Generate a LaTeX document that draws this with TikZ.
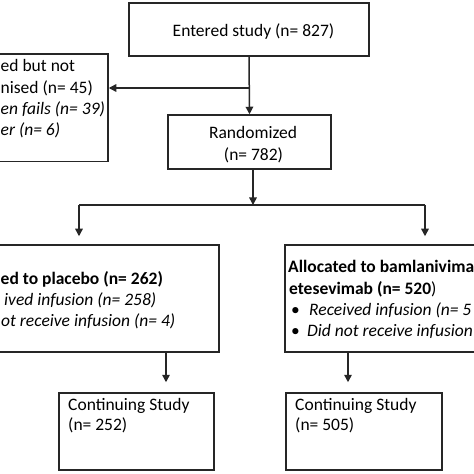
\documentclass[tikz,border=0pt]{standalone}
\usepackage{fontspec}
\setmainfont{Carlito}
\usetikzlibrary{arrows.meta}
\begin{document}
\begin{tikzpicture}[x=1bp,y=-1bp,
  box/.style={draw=black!85, line width=1.5bp, rectangle, inner sep=0pt},
  conn/.style={draw=black!85, line width=1.5bp},
  arrow/.style={conn, -{Triangle[length=7.5bp,width=7.5bp]}},
  txt/.style={inner sep=0pt, font=\fontsize{17.5bp}{21bp}\selectfont, text=black},
  txtb/.style={txt, font=\fontsize{17.5bp}{21bp}\selectfont\bfseries},
  txti/.style={txt, font=\fontsize{17.5bp}{21bp}\selectfont\itshape}]
\useasboundingbox (0,0) rectangle (474,474);
\fill[white] (0,0) rectangle (474,474);
\clip (0,0) rectangle (474,474);
% boxes
\node[box, minimum width=240bp, minimum height=53bp] (entered) at (249,29.5) {};
\node[box, minimum width=168bp, minimum height=107.5bp] (excl) at (24,107.75) {};
\node[box, minimum width=163bp, minimum height=54bp] (rand) at (249.5,142) {};
\node[box, minimum width=280bp, minimum height=107bp] (placebo) at (79,298.5) {};
\node[box, minimum width=280bp, minimum height=107bp] (bam) at (425,298.5) {};
\node[box, minimum width=155bp, minimum height=77bp] (cont1) at (136.5,431.5) {};
\node[box, minimum width=156bp, minimum height=77bp] (cont2) at (364,431.5) {};
% texts
\node[txt, anchor=base] (t1) at (253.5,36.5) {Entered study (n= 827)};
\node[txt, anchor=base west] (e1) at (0.5,71.5) {ed but not};
\node[txt, anchor=base west] (e2) at (0.5,93.5) {nised (n= 45)};
\node[txti, anchor=base west] (e3) at (0.5,114.5) {en fails (n= 39)};
\node[txti, anchor=base west] (e4) at (0.5,135.5) {er (n= 6)};
\node[txt, anchor=base] (r1) at (253,139) {Randomized};
\node[txt, anchor=base] (r2) at (253.5,161) {(n= 782)};
\node[txtb, anchor=base west] (p1) at (0.5,284.5) {ed to placebo (n= 262)};
\node[txti, anchor=base west] (p2) at (4,305.5) {ived infusion (n= 258)};
\node[txti, anchor=base west] (p3) at (1,326.5) {ot receive infusion (n= 4)};
\node[txtb, anchor=base west] (b1) at (288,272.5) {Allocated to bamlanivima};
\node[txt, anchor=base west] (b2) at (289,294.5) {\textbf{etesevimab (n= 520})};
\node[txt, anchor=base west] (bb1) at (291,315.5) {•};
\node[txti, anchor=base west] (b3) at (309,315.5) {Received infusion (n= 5};
\node[txt, anchor=base west] (bb2) at (291,336.5) {•};
\node[txti, anchor=base west] (b4) at (307,336.5) {Did not receive infusion};
\node[txt, anchor=base west] (c1) at (68,410.5) {Continuing Study};
\node[txt, anchor=base west] (c1b) at (68,430.5) {(n= 252)};
\node[txt, anchor=base west] (c2) at (295,410.5) {Continuing Study};
\node[txt, anchor=base west] (c2b) at (295,430.5) {(n= 505)};
% connectors
\coordinate (j1) at (249,88);
\coordinate (j2) at (253,205);
\coordinate (a1) at (166,383);
\coordinate (a2) at (348,383);
\draw[arrow] (entered.south) -- (rand.north);
\draw[arrow] (j1) -- (j1 -| excl.east);
\draw[arrow] (rand.south -| j2) -- (j2);
\draw[conn] (j2 -| placebo.north) -- (j2 -| bam.north);
\draw[arrow, shorten >=8bp] (j2 -| placebo.north) -- (placebo.north);
\draw[arrow, shorten >=8bp] (j2 -| bam.north) -- (bam.north);
\draw[arrow, shorten >=10bp] (placebo.south -| a1) -- (cont1.north -| a1);
\draw[arrow, shorten >=10bp] (bam.south -| a2) -- (cont2.north -| a2);
\end{tikzpicture}
\end{document}
